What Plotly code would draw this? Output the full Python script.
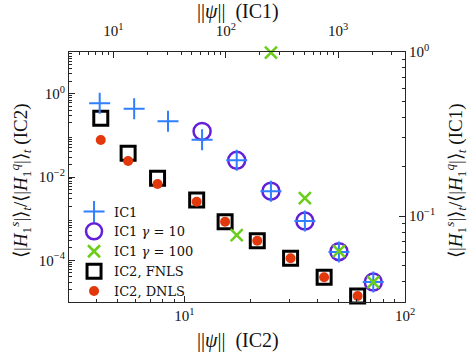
import numpy as np
import plotly.graph_objects as go

# ---------------- data ----------------
# IC1 (top x axis / right y axis)
ic1_psi = [7.55, 15.3, 30.6, 61.5, 125, 252, 505, 1015, 2050]
ic1_ratio = [0.488, 0.451, 0.378, 0.292, 0.219, 0.142, 0.0933, 0.0604, 0.0397]

ic1g10_psi = [61.5, 125, 252, 505, 1015, 2050]
ic1g10_ratio = [0.328, 0.219, 0.142, 0.0933, 0.0608, 0.0397]

ic1g100_psi = [125, 252, 505, 1015, 2050]
ic1g100_ratio = [0.0767, 0.99, 0.129, 0.0613, 0.0397]

# IC2 (bottom x axis / left y axis)
ic2_psi = [4.18, 5.56, 7.56, 11.37, 15.3, 21.4, 30.3, 43.0, 61.0]
ic2_fnls = [0.256, 0.037, 0.0093, 0.00281, 8.45e-4, 2.96e-4, 1.12e-4, 3.92e-5, 1.39e-5]
ic2_dnls = [0.0773, 0.0242, 0.0068, 0.00255, 8.45e-4, 2.96e-4, 1.12e-4, 3.92e-5, 1.39e-5]

xb_ticks = [10, 100]
xb_text = ["10<sup>1</sup>", "10<sup>2</sup>"]
xt_ticks = [10, 100, 1000]
xt_text = ["10<sup>1</sup>", "10<sup>2</sup>", "10<sup>3</sup>"]
yl_ticks = [1, 1e-2, 1e-4]
yl_text = ["10<sup>0</sup>", "10<sup>−2</sup>", "10<sup>−4</sup>"]
yr_ticks = [1, 0.1]
yr_text = ["10<sup>0</sup>", "10<sup>−1</sup>"]

# ---------------- style ----------------
FONT = "Liberation Serif"
AX = "#262626"
C_PLUS = "#2f7fff"
C_CIRC = "#6420d8"
C_X = "#6acd1a"
C_DOT = "#e2380c"


def minors(lo, hi):
    out = []
    for k in range(lo, hi + 1):
        for m in range(2, 10):
            out.append(m * 10.0 ** k)
    return out


fig = go.Figure()

fig.add_trace(go.Scatter(x=ic2_psi, y=ic2_fnls, mode="markers", name="IC2, FNLS",
                         marker=dict(symbol="square-open", size=14, color="black",
                                     line=dict(width=3, color="black")),
                         legendrank=4, cliponaxis=False))
fig.add_trace(go.Scatter(x=ic2_psi, y=ic2_dnls, mode="markers", name="IC2, DNLS",
                         marker=dict(symbol="circle", size=10, color=C_DOT,
                                     line=dict(width=0)),
                         legendrank=5, cliponaxis=False))
fig.add_trace(go.Scatter(x=ic1g10_psi, y=ic1g10_ratio, mode="markers",
                         name="IC1 <i>γ</i> = 10", xaxis="x2", yaxis="y2",
                         marker=dict(symbol="circle-open", size=17, color=C_CIRC,
                                     line=dict(width=2.5, color=C_CIRC)),
                         legendrank=2, cliponaxis=False))
fig.add_trace(go.Scatter(x=ic1_psi, y=ic1_ratio, mode="markers", name="IC1",
                         xaxis="x2", yaxis="y2",
                         marker=dict(symbol="cross-thin", size=15, color=C_PLUS,
                                     line=dict(width=2, color=C_PLUS)),
                         legendrank=1, cliponaxis=False))
fig.add_trace(go.Scatter(x=ic1g100_psi, y=ic1g100_ratio, mode="markers",
                         name="IC1 <i>γ</i> = 100", xaxis="x2", yaxis="y2",
                         marker=dict(symbol="x-thin", size=12, color=C_X,
                                     line=dict(width=2.5, color=C_X)),
                         legendrank=3, cliponaxis=False))

common = dict(showgrid=False, zeroline=False, showline=True, linecolor=AX, linewidth=1,
              ticks="inside", ticklen=6, tickcolor=AX, tickwidth=1, automargin=False,
              tickfont=dict(family=FONT, size=15, color="#111"))

ylab = ("⟨|<i>H</i><sub>1</sub><sup><i>s</i></sup>|⟩<sub><i>t</i></sub>/"
        "⟨|<i>H</i><sub>1</sub><sup><i>q</i></sup>|⟩<sub><i>t</i></sub>")

L, R, T, B = 69, 69, 52, 54
W, H = 474, 356
PW, PH = W - L - R, H - T - B


def px(x):
    return (x - L) / PW


def py(y):
    return (H - B - y) / PH


title_font = dict(family=FONT, size=20, color="#111")
ytitle_font = dict(family=FONT, size=19, color="#111")

annotations = [
    dict(text="||<i>ψ</i>||  (IC1)", x=px(238), y=py(11), xref="paper", yref="paper",
         showarrow=False, xanchor="center", yanchor="middle", font=title_font),
    dict(text="||<i>ψ</i>||  (IC2)", x=px(238), y=py(340), xref="paper", yref="paper",
         showarrow=False, xanchor="center", yanchor="middle", font=title_font),
    dict(text=ylab + " (IC2)", x=px(20), y=py(181), xref="paper", yref="paper",
         showarrow=False, xanchor="center", yanchor="middle", textangle=-90, font=ytitle_font),
    dict(text=ylab + " (IC1)", x=px(455), y=py(181), xref="paper", yref="paper",
         showarrow=False, xanchor="center", yanchor="middle", textangle=-90, font=ytitle_font),
]

fig.update_layout(
    width=W, height=H,
    margin=dict(l=L, r=R, t=T, b=B, autoexpand=False),
    paper_bgcolor="white", plot_bgcolor="white",
    font=dict(family=FONT, color="#111"),
    xaxis=dict(type="log", range=[np.log10(3), 2], tickvals=xb_ticks, ticktext=xb_text,
               minor=dict(ticks="inside", ticklen=3, tickcolor=AX, tickvals=minors(0, 1)),
               **common),
    xaxis2=dict(type="log", range=[0.605, 3.594], overlaying="x", side="top", anchor="y",
                tickvals=xt_ticks, ticktext=xt_text, ticklabelstandoff=9,
                minor=dict(ticks="inside", ticklen=3, tickcolor=AX, tickvals=minors(0, 3)),
                **common),
    yaxis=dict(type="log", range=[-5, 1], tickvals=yl_ticks, ticktext=yl_text,
               minor=dict(ticks="inside", ticklen=3, tickcolor=AX, tickvals=minors(-5, 0)),
               **common),
    yaxis2=dict(type="log", range=[np.log10(0.03), 0], overlaying="y", side="right", anchor="x",
                tickvals=yr_ticks, ticktext=yr_text,
                minor=dict(ticks="inside", ticklen=3, tickcolor=AX, tickvals=minors(-2, -1)),
                **common),
    annotations=annotations,
    legend=dict(x=0.015, y=-0.018, xanchor="left", yanchor="bottom",
                bgcolor="rgba(0,0,0,0)", borderwidth=0,
                font=dict(family="DejaVu Serif", size=13, color="#111"),
                tracegroupgap=0, itemwidth=30),
    showlegend=True,
)

fig.write_html("out.html", config={"displayModeBar": False},
               post_script="document.body.style.margin='0px';")
